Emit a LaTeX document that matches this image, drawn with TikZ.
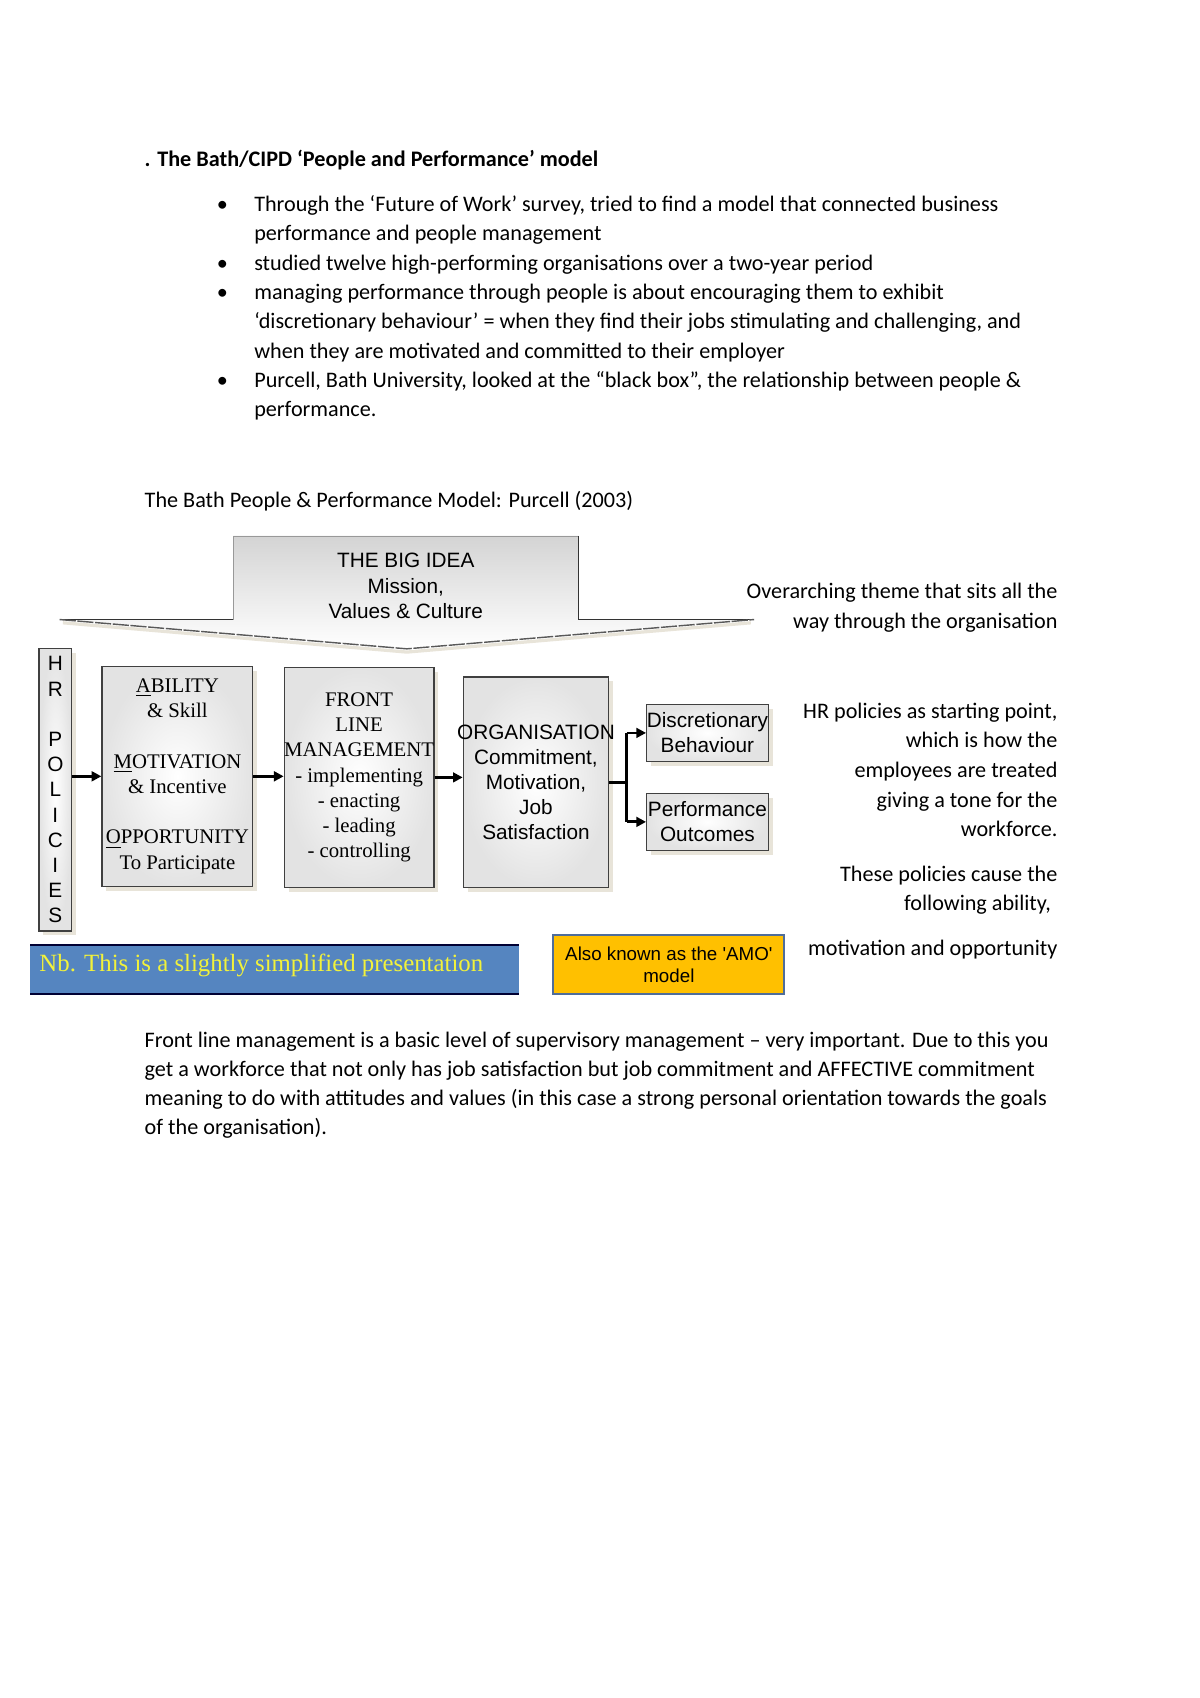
\documentclass[tikz,border=0pt]{standalone}
\usepackage{fontspec}
\setmainfont{Carlito}
\newfontfamily\arialf{Liberation Sans}
\newfontfamily\timesf{Liberation Serif}
\usetikzlibrary{arrows.meta,shadows}
\newcommand\uu{0.538pt}
\newcommand\wideline[1]{\makebox[0pt][c]{#1}}
\definecolor{shadowc}{HTML}{E8E4D9}
\definecolor{nbblue}{HTML}{5585C0}
\definecolor{nbyellow}{HTML}{F2F23A}
\definecolor{amofill}{HTML}{FFC000}
\definecolor{amoedge}{HTML}{4F6D9A}
\begin{document}
\begin{tikzpicture}[x=0.538pt,y=-0.538pt,
  body/.style={anchor=base west,inner sep=0pt,font=\fontsize{11}{13}\selectfont},
  rbody/.style={anchor=base east,inner sep=0pt,font=\fontsize{11}{13}\selectfont},
  bul/.style={anchor=base,inner sep=0pt,font=\fontsize{11}{13}\selectfont},
  gbox/.style={draw=black!75,line width=0.6pt,inner sep=0pt,align=center,
    inner color=white,outer color=black!11,
    drop shadow={shadow xshift=2.2pt,shadow yshift=-2.2pt,fill=shadowc,opacity=1}},
  serifbox/.style={gbox,font=\timesf\fontsize{10.3}{12.5}\selectfont},
  sansbox/.style={gbox,font=\arialf\fontsize{10.3}{12.5}\selectfont},
  flow/.style={line width=1.4pt,-{Triangle[length=4.8pt,width=4.8pt]}},
  trunk/.style={line width=1.4pt}
]
\useasboundingbox (0,0) rectangle (1106,1565);
\fill[white] (0,0) rectangle (1106,1565);

% ---------- heading and bullets ----------
\node[body,font=\bfseries\fontsize{11}{13}\selectfont] (title) at (133,153) {. The Bath/CIPD ‘People and Performance’ model};

\node[bul] (b1) at (205,195) {•};
\node[body] (l1) at (234,195) {Through the ‘Future of Work’ survey, tried to find a model that connected business};
\node[body] (l2) at (234,222) {performance and people management};
\node[bul] (b2) at (205,249) {•};
\node[body] (l3) at (234,249) {studied twelve high-performing organisations over a two-year period};
\node[bul] (b3) at (205,276) {•};
\node[body] (l4) at (234,276) {managing performance through people is about encouraging them to exhibit};
\node[body] (l5) at (234,303) {‘discretionary behaviour’ = when they find their jobs stimulating and challenging, and};
\node[body] (l6) at (234,330) {when they are motivated and committed to their employer};
\node[bul] (b4) at (205,357) {•};
\node[body] (l7) at (234,357) {Purcell, Bath University, looked at the “black box”, the relationship between people \&};
\node[body] (l8) at (234,384) {performance.};

\node[body] (sub) at (133,468) {The Bath People \& Performance Model: Purcell (2003)};

% ---------- big idea arrow ----------
\path[top color=black!17,bottom color=white]
  (55,571) -- (215,571) -- (215,494) -- (533,494) -- (533,571) -- (695,571) -- (375,598) -- cycle;
\draw[shadowc,line width=1.6pt] (58,574) -- (375,601) -- (692,574);
\draw[black!40,line width=0.4pt] (215,571) -- (215,494) -- (533,494);
\draw[black!80,line width=0.7pt] (55,571) -- (215,571);
\draw[black!80,line width=0.7pt] (533,494) -- (533,571) -- (695,571);
\draw[black!65,line width=0.7pt,dash pattern=on 8pt off 0.8pt] (55,571) -- (375,598) -- (695,571);
\node[align=center,inner sep=0pt,font=\arialf\fontsize{10.3}{12.6}\selectfont] (idea) at (374,540)
  {THE BIG IDEA\\Mission,\\Values \& Culture};

% ---------- right-hand notes ----------
\node[rbody] (o1) at (975,552) {Overarching theme that sits all the};
\node[rbody] (o2) at (975,579) {way through the organisation};
\node[rbody] (h1) at (975,662) {HR policies as starting point,};
\node[rbody] (h2) at (975,689) {which is how the};
\node[rbody] (h3) at (975,717) {employees are treated};
\node[rbody] (h4) at (975,744) {giving a tone for the};
\node[rbody] (h5) at (975,771) {workforce.};
\node[rbody] (t1) at (975,812) {These policies cause the};
\node[rbody] (t2) at (969,839) {following ability,};
\node[rbody] (t3) at (975,881) {motivation and opportunity};

% ---------- model boxes ----------
\node[sansbox,minimum width=30*\uu,minimum height=260*\uu] (hr) at (51,728)
  {H\\R\\[12.5pt]P\\O\\L\\I\\C\\I\\E\\S};
\node[serifbox,minimum width=139*\uu,minimum height=203*\uu] (abil) at (163.5,715.5)
  {\underline{A}BILITY\\\& Skill\\[12.5pt]\underline{M}OTIVATION\\\& Incentive\\[12.5pt]\wideline{\underline{O}PPORTUNITY}\\To Participate};
\node[serifbox,minimum width=138*\uu,minimum height=203*\uu] (front) at (331,716.5)
  {FRONT\\LINE\\\wideline{MANAGEMENT}\\- implementing\\- enacting\\- leading\\- controlling};
\node[sansbox,minimum width=134*\uu,minimum height=194*\uu] (org) at (494,721)
  {\wideline{ORGANISATION}\\Commitment,\\Motivation,\\Job\\Satisfaction};
\node[sansbox,minimum width=112*\uu,minimum height=53*\uu] (disc) at (652,675.5)
  {\wideline{Discretionary}\\Behaviour};
\node[sansbox,minimum width=112*\uu,minimum height=53*\uu] (perf) at (652,757.5)
  {\wideline{Performance}\\Outcomes};

% ---------- connectors ----------
\draw[flow] (hr.east |- abil.west) -- (abil.west);
\draw[flow] (abil.east) -- (abil.east -| front.west);
\draw[flow] (front.east) -- (front.east -| org.west);
\draw[trunk] (org.east) -- ++(16,0) coordinate (j);
\draw[trunk] (j |- disc.west) -- (j |- perf.west);
\draw[flow] (j |- disc.west) -- (disc.west);
\draw[flow] (j |- perf.west) -- (perf.west);

% ---------- notes under the model ----------
\fill[nbblue] (28,871) rectangle (478,916);
\draw[black!80!blue,line width=0.8pt] (28,871) -- (478,871);
\draw[black!80!blue,line width=0.8pt] (28,916) -- (478,916);
\node[anchor=west,inner sep=0pt,text=nbyellow,font=\timesf\fontsize{12.3}{14}\selectfont] (nb) at (36,890)
  {Nb. This is a slightly simplified presentation};
\node[draw=amoedge,line width=1pt,fill=amofill,minimum width=213*\uu,minimum height=54*\uu,inner sep=0pt,
  align=center,font=\arialf\fontsize{9.3}{10.8}\selectfont] (amo) at (616.5,889)
  {Also known as the \textquotesingle AMO\textquotesingle\\model};

% ---------- closing paragraph ----------
\node[body] (p1) at (133,965) {Front line management is a basic level of supervisory management – very important. Due to this you};
\node[body] (p2) at (133,992) {get a workforce that not only has job satisfaction but job commitment and AFFECTIVE commitment};
\node[body] (p3) at (133,1019) {meaning to do with attitudes and values (in this case a strong personal orientation towards the goals};
\node[body] (p4) at (133,1046) {of the organisation).};
\end{tikzpicture}
\end{document}
